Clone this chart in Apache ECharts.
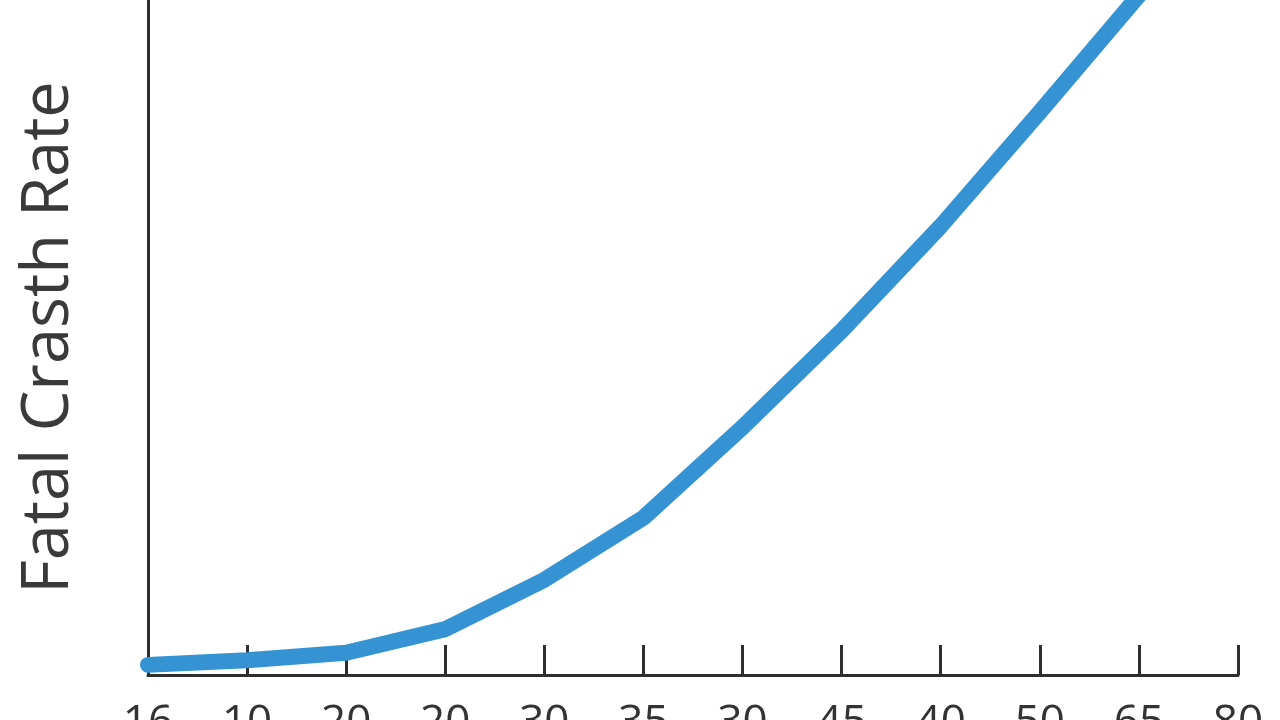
<!DOCTYPE html>
<html>
<head>
<meta charset="utf-8">
<script src="https://cdn.jsdelivr.net/npm/echarts@6/dist/echarts.min.js"></script>
<style>
html,body{margin:0;padding:0;background:#fff;}
#chart{width:1280px;height:720px;}
</style>
</head>
<body>
<div id="chart"></div>
<script>
var ageLabels = ['16','10','20','20','30','35','30','45','40','50','65','80'];
var crashRate = [1.5, 2.2, 3.3, 6.8, 14.1, 23.3, 36.7, 51.0, 66.5, 83.4, 100.7, 118.5];
var yAxisTitle = 'Fatal Crasth Rate';

var chart = echarts.init(document.getElementById('chart'));
chart.setOption({
  backgroundColor: '#ffffff',
  animation: false,
  grid: { left: 148, right: 42, top: 0, bottom: 45, containLabel: false, outerBoundsMode: 'none' },
  xAxis: {
    type: 'category',
    data: ageLabels,
    boundaryGap: false,
    axisLine: { show: true, lineStyle: { color: '#2e2e2e', width: 3 } },
    axisTick: { show: true, inside: true, length: 30, alignWithLabel: true, lineStyle: { color: '#2e2e2e', width: 3 } },
    axisLabel: { show: true, interval: 0, margin: 26, color: '#333333', fontSize: 44, fontFamily: 'Open Sans', hideOverlap: false },
    splitLine: { show: false }
  },
  yAxis: {
    type: 'value',
    min: 0,
    max: 100,
    name: yAxisTitle,
    nameLocation: 'middle',
    nameRotate: 90,
    nameGap: 66,
    nameTextStyle: { color: '#3a3a3a', fontSize: 65, fontFamily: 'Open Sans' },
    axisLine: { show: true, lineStyle: { color: '#2e2e2e', width: 3 } },
    axisTick: { show: false },
    axisLabel: { show: false },
    splitLine: { show: false }
  },
  series: [{
    type: 'line',
    data: crashRate,
    smooth: false,
    showSymbol: false,
    clip: true,
    lineStyle: { color: '#3593d3', width: 16, cap: 'round', join: 'round' }
  }]
});
</script>
</body>
</html>
